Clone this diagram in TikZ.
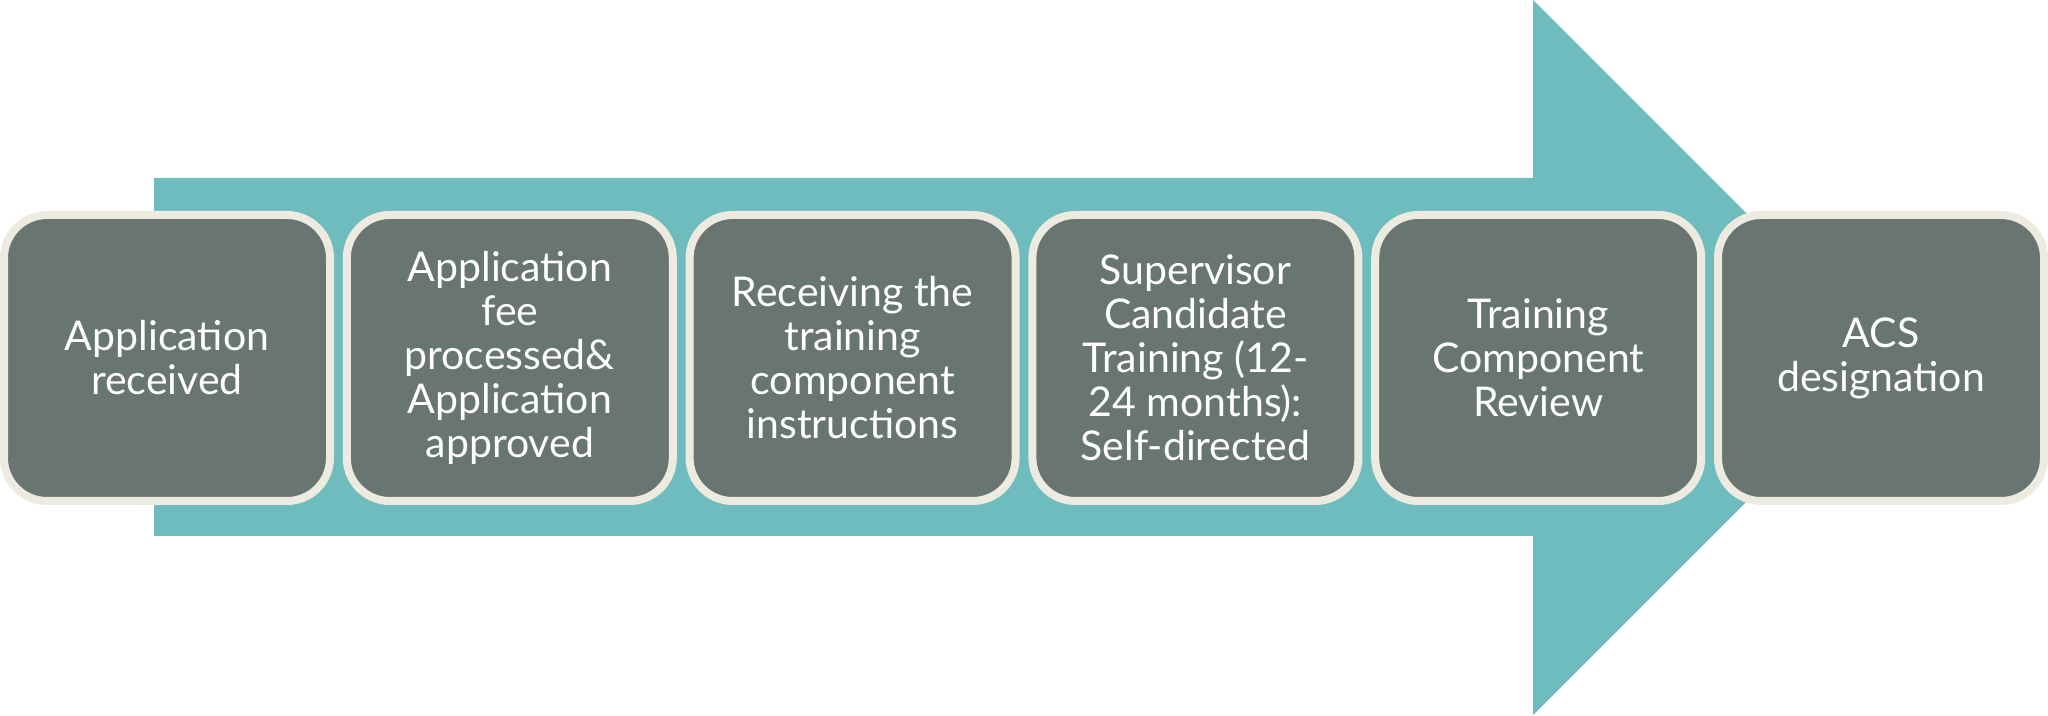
\documentclass[tikz,border=0pt]{standalone}
\usepackage{fontspec}
\setmainfont{Lato}
\definecolor{teal}{HTML}{6FBCBE}
\definecolor{slate}{HTML}{687570}
\definecolor{cream}{HTML}{EDEBE0}
\begin{document}
\begin{tikzpicture}[x=1pt, y=1pt,
  stage/.style={shape=rectangle, rounded corners=43pt, draw=cream, line width=8pt, fill=slate,
    minimum width=326pt, minimum height=286pt, inner sep=0pt, text=white, align=center,
    font=\fontsize{41}{44}\selectfont}]
\useasboundingbox (0,0) rectangle (2048,715);
\fill[teal] (154,179) -- (154,537) -- (1533,537) -- (1533,715) -- (1890.5,357.5) -- (1533,0) -- (1533,179) -- cycle;
\node[stage] (1) at (167,357) {Application\\received};
\node[stage] (2) at (509.8,357) {Application\\fee\\processed\&\\Application\\approved};
\node[stage] (3) at (852.6,357) {Receiving the\\training\\component\\instructions};
\node[stage] (4) at (1195.4,357) {Supervisor\\Candidate\\Training (12-\\24 months):\\Self-directed};
\node[stage] (5) at (1538.2,357) {Training\\Component\\Review};
\node[stage] (6) at (1881,357) {ACS\\designation};
\end{tikzpicture}
\end{document}
